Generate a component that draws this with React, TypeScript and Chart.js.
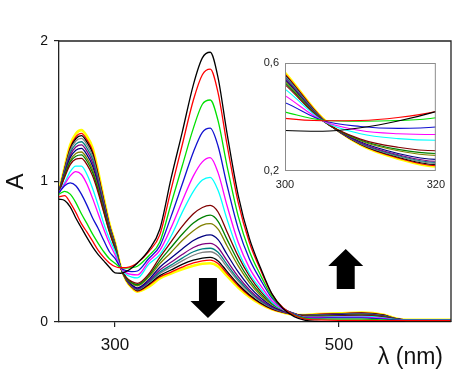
import React, { useEffect, useRef } from "react";
import { Chart, registerables } from "chart.js";

Chart.register(...registerables);

// ---------- data ----------
const WAVELENGTHS = [
  250, 255, 260, 265, 270, 275, 280, 285, 290, 295, 300,
  305, 310, 315, 320,
  330, 340, 350, 360, 370,
  378, 385,
  392, 400,
  410, 420, 430, 440, 450, 460, 470, 480,
  500, 520, 540,
  550, 560,
  580, 600,
];

const A_BLACK_1 = [
  0.875, 0.865, 0.82, 0.74, 0.67, 0.6, 0.535, 0.48, 0.435, 0.39, 0.35,
  0.347, 0.36, 0.385, 0.42,
  0.51, 0.66, 1.02, 1.35, 1.69,
  1.88, 1.92,
  1.74, 1.344,
  0.902, 0.595, 0.384, 0.202, 0.096, 0.038, 0.012, 0.004,
  0, 0, 0,
  0, 0,
  0, 0,
];
const A_RED_1 = [
  0.89, 0.9, 0.85, 0.78, 0.7, 0.64, 0.575, 0.51, 0.46, 0.42, 0.395,
  0.386, 0.387, 0.398, 0.42,
  0.5, 0.62, 0.94, 1.26, 1.58,
  1.76, 1.8,
  1.632, 1.264,
  0.852, 0.566, 0.37, 0.2, 0.101, 0.048, 0.02, 0.015,
  0.012, 0.012, 0.01,
  0.01, 0.01,
  0.01, 0.01,
];
const A_GREEN = [
  0.91, 0.93, 0.91, 0.85, 0.77, 0.7, 0.625, 0.56, 0.5, 0.45, 0.418,
  0.388, 0.384, 0.387, 0.397,
  0.47, 0.57, 0.84, 1.11, 1.38,
  1.55, 1.58,
  1.433, 1.112,
  0.753, 0.504, 0.332, 0.184, 0.098, 0.051, 0.025, 0.02,
  0.02, 0.02, 0.015,
  0.012, 0.012,
  0.012, 0.012,
];
const A_BLUE = [
  0.92, 0.97, 0.99, 0.97, 0.91, 0.83, 0.74, 0.665, 0.58, 0.5, 0.453,
  0.387, 0.365, 0.358, 0.363,
  0.45, 0.54, 0.75, 0.98, 1.21,
  1.35, 1.38,
  1.253, 0.975,
  0.665, 0.449, 0.3, 0.172, 0.098, 0.057, 0.03, 0.028,
  0.03, 0.03, 0.02,
  0.015, 0.013,
  0.013, 0.013,
];
const A_MAGENTA = [
  0.92, 0.98, 1.04, 1.07, 1.05, 0.98, 0.88, 0.77, 0.66, 0.56, 0.479,
  0.386, 0.35, 0.338, 0.335,
  0.43, 0.51, 0.67, 0.86, 1.04,
  1.14, 1.17,
  1.063, 0.829,
  0.567, 0.385, 0.26, 0.152, 0.09, 0.056, 0.032, 0.032,
  0.035, 0.035, 0.025,
  0.016, 0.014,
  0.014, 0.014,
];
const A_CYAN = [
  0.92, 0.99, 1.07, 1.11, 1.11, 1.05, 0.95, 0.83, 0.7, 0.59, 0.503,
  0.386, 0.338, 0.32, 0.314,
  0.41, 0.48, 0.61, 0.78, 0.93,
  1.01, 1.03,
  0.937, 0.732,
  0.504, 0.345, 0.236, 0.141, 0.087, 0.057, 0.035, 0.035,
  0.038, 0.04, 0.03,
  0.018, 0.016,
  0.016, 0.016,
];
const A_DARKRED = [
  0.92, 1.03, 1.12, 1.16, 1.165, 1.12, 1.04, 0.92, 0.78, 0.64, 0.52,
  0.386, 0.318, 0.288, 0.275,
  0.34, 0.46, 0.57, 0.68, 0.77,
  0.815, 0.83,
  0.783, 0.642,
  0.469, 0.328, 0.218, 0.139, 0.092, 0.061, 0.04, 0.038,
  0.042, 0.045, 0.035,
  0.02, 0.015,
  0.015, 0.015,
];
const A_DARKGREEN = [
  0.92, 1.04, 1.14, 1.18, 1.19, 1.144, 1.064, 0.938, 0.79, 0.647, 0.527,
  0.386, 0.315, 0.28, 0.265,
  0.328, 0.435, 0.53, 0.625, 0.705,
  0.745, 0.76,
  0.717, 0.588,
  0.431, 0.302, 0.202, 0.131, 0.088, 0.059, 0.04, 0.04,
  0.044, 0.047, 0.036,
  0.02, 0.015,
  0.015, 0.015,
];
const A_OLIVE = [
  0.922, 1.045, 1.15, 1.2, 1.21, 1.164, 1.084, 0.953, 0.8, 0.653, 0.533,
  0.387, 0.312, 0.275, 0.258,
  0.318, 0.415, 0.495, 0.58, 0.65,
  0.69, 0.7,
  0.661, 0.543,
  0.399, 0.281, 0.189, 0.124, 0.084, 0.058, 0.042, 0.042,
  0.046, 0.05, 0.038,
  0.021, 0.015,
  0.015, 0.015,
];
const A_NAVY = [
  0.924, 1.055, 1.17, 1.223, 1.236, 1.19, 1.11, 0.97, 0.815, 0.66, 0.538,
  0.388, 0.308, 0.265, 0.243,
  0.3, 0.39, 0.455, 0.52, 0.58,
  0.61, 0.62,
  0.586, 0.482,
  0.356, 0.252, 0.172, 0.114, 0.08, 0.057, 0.044, 0.045,
  0.05, 0.053, 0.04,
  0.022, 0.015,
  0.015, 0.015,
];
const A_PURPLE = [
  0.925, 1.063, 1.186, 1.245, 1.26, 1.214, 1.134, 0.99, 0.827, 0.668, 0.543,
  0.389, 0.305, 0.26, 0.236,
  0.29, 0.37, 0.425, 0.48, 0.53,
  0.555, 0.56,
  0.529, 0.436,
  0.323, 0.23, 0.158, 0.107, 0.076, 0.055, 0.045, 0.047,
  0.052, 0.056, 0.042,
  0.023, 0.015,
  0.015, 0.015,
];
const A_TEAL = [
  0.926, 1.071, 1.203, 1.266, 1.283, 1.238, 1.158, 1.009, 0.839, 0.675, 0.548,
  0.39, 0.303, 0.257, 0.232,
  0.283, 0.355, 0.405, 0.455, 0.5,
  0.52, 0.525,
  0.496, 0.41,
  0.304, 0.218, 0.151, 0.103, 0.074, 0.055, 0.046, 0.048,
  0.053, 0.058, 0.043,
  0.023, 0.015,
  0.015, 0.015,
];
const A_GREY = [
  0.927, 1.08, 1.22, 1.288, 1.307, 1.262, 1.182, 1.027, 0.851, 0.683, 0.552,
  0.391, 0.301, 0.254, 0.228,
  0.277, 0.345, 0.39, 0.435, 0.475,
  0.495, 0.5,
  0.473, 0.391,
  0.291, 0.209, 0.145, 0.1, 0.072, 0.054, 0.047, 0.05,
  0.055, 0.06, 0.045,
  0.024, 0.015,
  0.015, 0.015,
];
const A_BLACK_2 = [
  0.928, 1.086, 1.232, 1.304, 1.326, 1.28, 1.2, 1.04, 0.86, 0.688, 0.556,
  0.392, 0.299, 0.251, 0.224,
  0.268, 0.33, 0.37, 0.41, 0.44,
  0.455, 0.46,
  0.435, 0.36,
  0.269, 0.194, 0.136, 0.095, 0.07, 0.053, 0.048, 0.052,
  0.058, 0.063, 0.048,
  0.025, 0.015,
  0.015, 0.015,
];
const A_RED_2 = [
  0.929, 1.092, 1.243, 1.318, 1.343, 1.296, 1.216, 1.052, 0.868, 0.693, 0.56,
  0.394, 0.298, 0.248, 0.22,
  0.262, 0.32, 0.355, 0.39, 0.42,
  0.435, 0.44,
  0.416, 0.345,
  0.258, 0.187, 0.132, 0.092, 0.069, 0.053, 0.049, 0.054,
  0.06, 0.065, 0.05,
  0.025, 0.015,
  0.015, 0.015,
];
const A_YELLOW = [
  0.93, 1.1, 1.26, 1.34, 1.366, 1.32, 1.24, 1.07, 0.88, 0.7, 0.565,
  0.396, 0.296, 0.245, 0.216,
  0.25, 0.31, 0.345, 0.375, 0.4,
  0.414, 0.418,
  0.396, 0.328,
  0.246, 0.179, 0.127, 0.09, 0.067, 0.052, 0.05, 0.056,
  0.062, 0.068, 0.052,
  0.026, 0.015,
  0.015, 0.015,
];

const SERIES_VALUES = [
  A_BLACK_1, A_RED_1, A_GREEN, A_BLUE, A_MAGENTA, A_CYAN,
  A_DARKRED, A_DARKGREEN, A_OLIVE, A_NAVY, A_PURPLE, A_TEAL,
  A_GREY, A_BLACK_2, A_RED_2, A_YELLOW,
];
const SERIES_COLORS = [
  "#000000", "#ff0000", "#00e000", "#1010d0", "#ff00ff", "#00ffff",
  "#800000", "#008000", "#808000", "#000080", "#800080", "#008080",
  "#808080", "#000000", "#ff0000", "#ffff00",
];

const X_TICKS = [300, 500];
const Y_TICKS = [0, 1, 2];
const INSET_X_TICKS = [300, 320];
const INSET_Y_TICKS = [0.2, 0.6];

const Y_TITLE = "A";
const X_TITLE = "λ (nm)";

// annotation arrows (in data coordinates): wavelength, tip absorbance, direction
const ARROW_WL = [383, 506];
const ARROW_TIP = [0.028, 0.52];
const ARROW_DIR = ["down", "up"];

const FONT = '"Liberation Sans", Arial, Helvetica, sans-serif';

function buildDatasets(thin: number, thick: number) {
  return SERIES_VALUES.map((vals, i) => ({
    data: WAVELENGTHS.map((x, j) => ({ x, y: vals[j] })),
    borderColor: SERIES_COLORS[i],
    backgroundColor: SERIES_COLORS[i],
    borderWidth: i === SERIES_VALUES.length - 1 ? thick : thin,
    pointRadius: 0,
    fill: false,
    cubicInterpolationMode: "monotone" as const,
  }));
}

const mainDecor = {
  id: "mainDecor",
  afterDraw(chart: any) {
    const { ctx, chartArea, scales } = chart;
    const { left, top, right, bottom } = chartArea;
    ctx.save();
    ctx.strokeStyle = "#222";
    ctx.lineWidth = 1.3;
    ctx.beginPath();
    ctx.moveTo(left, top);
    ctx.lineTo(right, top);
    ctx.lineTo(right, bottom);
    ctx.stroke();

    // arrows
    ctx.fillStyle = "#000";
    const headW = 35, headH = 17, shaftW = 18, shaftL = 23;
    ARROW_WL.forEach((wl, k) => {
      const cx = scales.x.getPixelForValue(wl);
      const tip = scales.y.getPixelForValue(ARROW_TIP[k]);
      const d = ARROW_DIR[k] === "down" ? 1 : -1;
      ctx.beginPath();
      ctx.moveTo(cx, tip);
      ctx.lineTo(cx - headW / 2, tip - d * headH);
      ctx.lineTo(cx - shaftW / 2, tip - d * headH);
      ctx.lineTo(cx - shaftW / 2, tip - d * (headH + shaftL));
      ctx.lineTo(cx + shaftW / 2, tip - d * (headH + shaftL));
      ctx.lineTo(cx + shaftW / 2, tip - d * headH);
      ctx.lineTo(cx + headW / 2, tip - d * headH);
      ctx.closePath();
      ctx.fill();
    });

    // axis titles
    ctx.fillStyle = "#111";
    ctx.font = `24px ${FONT}`;
    ctx.textAlign = "center";
    ctx.textBaseline = "middle";
    ctx.save();
    ctx.translate(left - 43, (top + bottom) / 2);
    ctx.rotate(-Math.PI / 2);
    ctx.fillText(Y_TITLE, 0, 0);
    ctx.restore();

    ctx.font = `23px ${FONT}`;
    ctx.textAlign = "right";
    ctx.fillText(X_TITLE, right - 8, bottom + 36);
    ctx.restore();
  },
};

const insetDecor = {
  id: "insetDecor",
  afterDraw(chart: any) {
    const { ctx, chartArea } = chart;
    const { left, top, right, bottom } = chartArea;
    ctx.save();
    ctx.strokeStyle = "#8c8c8c";
    ctx.lineWidth = 1;
    ctx.strokeRect(left + 0.5, top + 0.5, right - left - 1, bottom - top - 1);
    ctx.restore();
  },
};

export default function App() {
  const mainRef = useRef<HTMLCanvasElement | null>(null);
  const insetRef = useRef<HTMLCanvasElement | null>(null);

  useEffect(() => {
    document.body.style.margin = "0";
    const main = new Chart(mainRef.current as HTMLCanvasElement, {
      type: "line",
      data: { datasets: buildDatasets(1.3, 2.6) as any },
      options: {
        responsive: false,
        animation: false,
        layout: { padding: { left: 0, top: 41, right: 23, bottom: 0 } },
        plugins: { legend: { display: false }, tooltip: { enabled: false } },
        scales: {
          x: {
            type: "linear",
            min: 250,
            max: 600,
            afterBuildTicks: (s: any) => {
              s.ticks = X_TICKS.map((v) => ({ value: v }));
            },
            afterFit: (s: any) => {
              s.height = 52;
            },
            grid: { drawOnChartArea: false, drawTicks: true, tickLength: 5, color: "#222", lineWidth: 1.2 },
            border: { color: "#222", width: 1.3 },
            ticks: { font: { family: FONT, size: 17 }, color: "#111", padding: 8, maxRotation: 0, autoSkip: false },
          },
          y: {
            type: "linear",
            min: 0,
            max: 2,
            afterBuildTicks: (s: any) => {
              s.ticks = Y_TICKS.map((v) => ({ value: v }));
            },
            afterFit: (s: any) => {
              s.width = 59;
            },
            grid: { drawOnChartArea: false, drawTicks: true, tickLength: 5, color: "#222", lineWidth: 1.2 },
            border: { color: "#222", width: 1.3 },
            ticks: { font: { family: FONT, size: 14 }, color: "#111", padding: 6 },
          },
        },
      } as any,
      plugins: [mainDecor],
    });

    const inset = new Chart(insetRef.current as HTMLCanvasElement, {
      type: "line",
      data: { datasets: buildDatasets(1.1, 2.2) as any },
      options: {
        responsive: false,
        animation: false,
        layout: { padding: { left: 0, top: 18, right: 15, bottom: 0 } },
        plugins: { legend: { display: false }, tooltip: { enabled: false } },
        scales: {
          x: {
            type: "linear",
            min: 300,
            max: 320,
            afterBuildTicks: (s: any) => {
              s.ticks = INSET_X_TICKS.map((v) => ({ value: v }));
            },
            afterFit: (s: any) => {
              s.height = 29;
            },
            grid: { display: false, drawTicks: false },
            border: { display: false },
            ticks: { font: { family: FONT, size: 11 }, color: "#222", padding: 7, maxRotation: 0, autoSkip: false },
          },
          y: {
            type: "linear",
            min: 0.2,
            max: 0.6,
            afterBuildTicks: (s: any) => {
              s.ticks = INSET_Y_TICKS.map((v) => ({ value: v }));
            },
            afterFit: (s: any) => {
              s.width = 45;
            },
            grid: { display: false, drawTicks: false },
            border: { display: false },
            ticks: {
              font: { family: FONT, size: 11 },
              color: "#222",
              padding: 6,
              callback: (v: any) => Number(v).toFixed(1).replace(".", ","),
            },
          },
        },
      } as any,
      plugins: [insetDecor],
    });

    return () => {
      main.destroy();
      inset.destroy();
    };
  }, []);

  return (
    <div style={{ position: "relative", width: 474, height: 374, background: "#fff" }}>
      <canvas ref={mainRef} width={474} height={374} style={{ position: "absolute", left: 0, top: 0 }} />
      <canvas ref={insetRef} width={212} height={155} style={{ position: "absolute", left: 240, top: 45 }} />
    </div>
  );
}
